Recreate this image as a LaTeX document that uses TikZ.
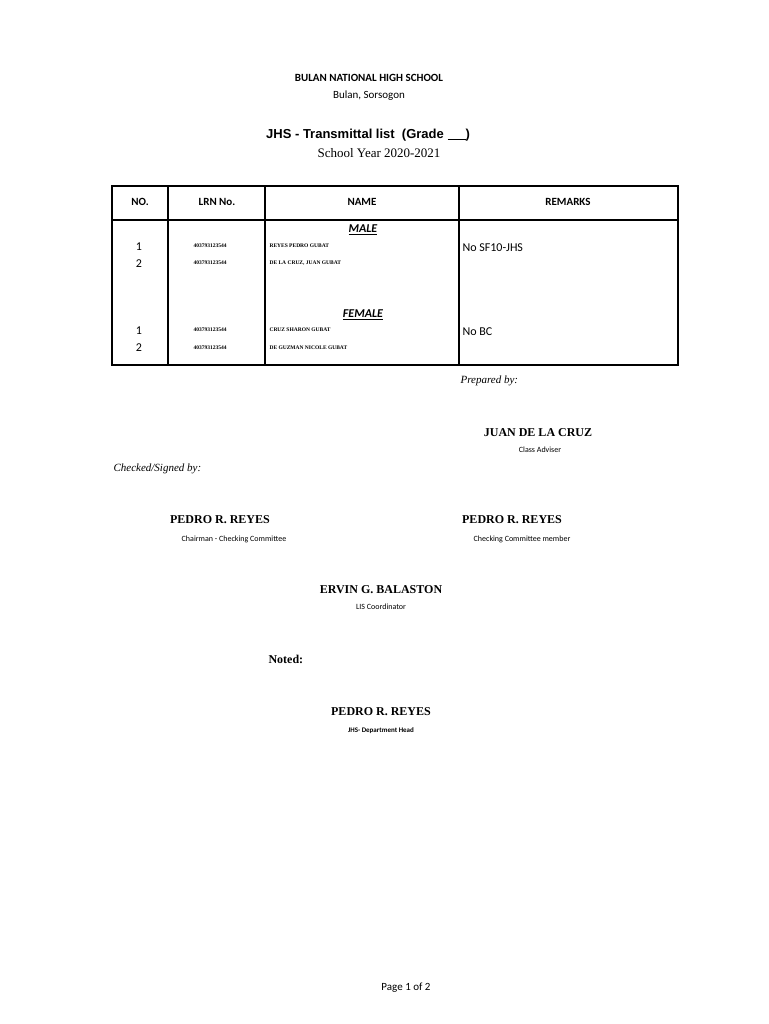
\documentclass[tikz,border=0pt]{standalone}
\usepackage{fontspec}
\setmainfont{Liberation Serif}
\newfontfamily\calf{Carlito}
\newfontfamily\arif{Liberation Sans}
\begin{document}
\begin{tikzpicture}[x=1pt,y=-1pt,
  cb/.style={font=\calf\fontsize{11}{12}\selectfont},
  calt/.style={font=\calf\fontsize{12}{13}\selectfont},
  tiny/.style={font=\fontsize{5.5}{6}\selectfont\bfseries, anchor=west},
  nm/.style={font=\fontsize{12}{13}\selectfont\bfseries},
  role/.style={font=\calf\fontsize{8}{9}\selectfont},
  sig/.style={font=\itshape\fontsize{11}{12}\selectfont, anchor=west},
  ln/.style={line width=1.6pt}]
\fill[white] (0,0) rectangle (768,1024);
\useasboundingbox (0,0) rectangle (768,1024);
\node[font=\calf\bfseries\fontsize{11}{12}\selectfont] (school) at (369,78) {BULAN NATIONAL HIGH SCHOOL};
\node[cb] (place) at (369,96) {Bulan, Sorsogon};
\node[font=\arif\bfseries\fontsize{13}{14}\selectfont] (title) at (368,135) {JHS - Transmittal list\ \ (Grade \rule[-1pt]{18pt}{0.8pt})};
\node[font=\fontsize{13}{14}\selectfont] (sy) at (379,153) {School Year 2020-2021};
% table
\draw[ln] (112,186) rectangle (678,365);
\draw[ln] (112,220) -- (678,220);
\foreach \x in {168,265,459} \draw[ln] (\x,186) -- (\x,365);
\node[font=\calf\bfseries\fontsize{11}{12}\selectfont] (h1) at (140,202) {NO.};
\node[font=\calf\bfseries\fontsize{11}{12}\selectfont] (h2) at (217,202) {LRN No.};
\node[font=\calf\bfseries\fontsize{11}{12}\selectfont] (h3) at (362,202) {NAME};
\node[font=\calf\bfseries\fontsize{11}{12}\selectfont] (h4) at (568,202) {REMARKS};
\node[font=\calf\bfseries\itshape\fontsize{12}{13}\selectfont] (male) at (363,230) {\underline{MALE}};
\node[calt] (m1) at (139,247) {1};
\node[calt] (m2) at (139,264) {2};
\node[tiny] (l1) at (190,246) {403793123544};
\node[tiny] (l2) at (190,263) {403793123544};
\node[tiny] (n1) at (266,246) {REYES PEDRO GUBAT};
\node[tiny] (n2) at (266,263) {DE LA CRUZ, JUAN GUBAT};
\node[calt,anchor=west] (r1) at (459,248) {No SF10-JHS};
\node[font=\calf\bfseries\itshape\fontsize{12}{13}\selectfont] (female) at (363,315) {\underline{FEMALE}};
\node[calt] (f1) at (139,331) {1};
\node[calt] (f2) at (139,348) {2};
\node[tiny] (l3) at (190,330) {403793123544};
\node[tiny] (l4) at (190,348) {403793123544};
\node[tiny] (n3) at (266,330) {CRUZ SHARON GUBAT};
\node[tiny] (n4) at (266,348) {DE GUZMAN NICOLE GUBAT};
\node[calt,anchor=west] (r2) at (459,332) {No BC};
% signatures
\node[sig] (prep) at (457,381) {Prepared by:};
\node[nm] (adv) at (538,433) {JUAN DE LA CRUZ};
\node[role] (advr) at (540,450) {Class Adviser};
\node[sig] (chk) at (110,469) {Checked/Signed by:};
\node[nm] (p1) at (220,520) {PEDRO R. REYES};
\node[role] (p1r) at (234,539) {Chairman - Checking Committee};
\node[nm] (p2) at (512,520) {PEDRO R. REYES};
\node[role] (p2r) at (522,539) {Checking Committee member};
\node[nm] (eb) at (381,590) {ERVIN G. BALASTON};
\node[role] (ebr) at (381,607) {LIS Coordinator};
\node[nm,anchor=west] (noted) at (265,659) {Noted:};
\node[nm] (p3) at (381,712) {PEDRO R. REYES};
\node[font=\calf\bfseries\fontsize{7}{8}\selectfont] (p3r) at (381,731) {JHS- Department Head};
\node[cb] (page) at (406,988) {Page 1 of 2};
\end{tikzpicture}
\end{document}
